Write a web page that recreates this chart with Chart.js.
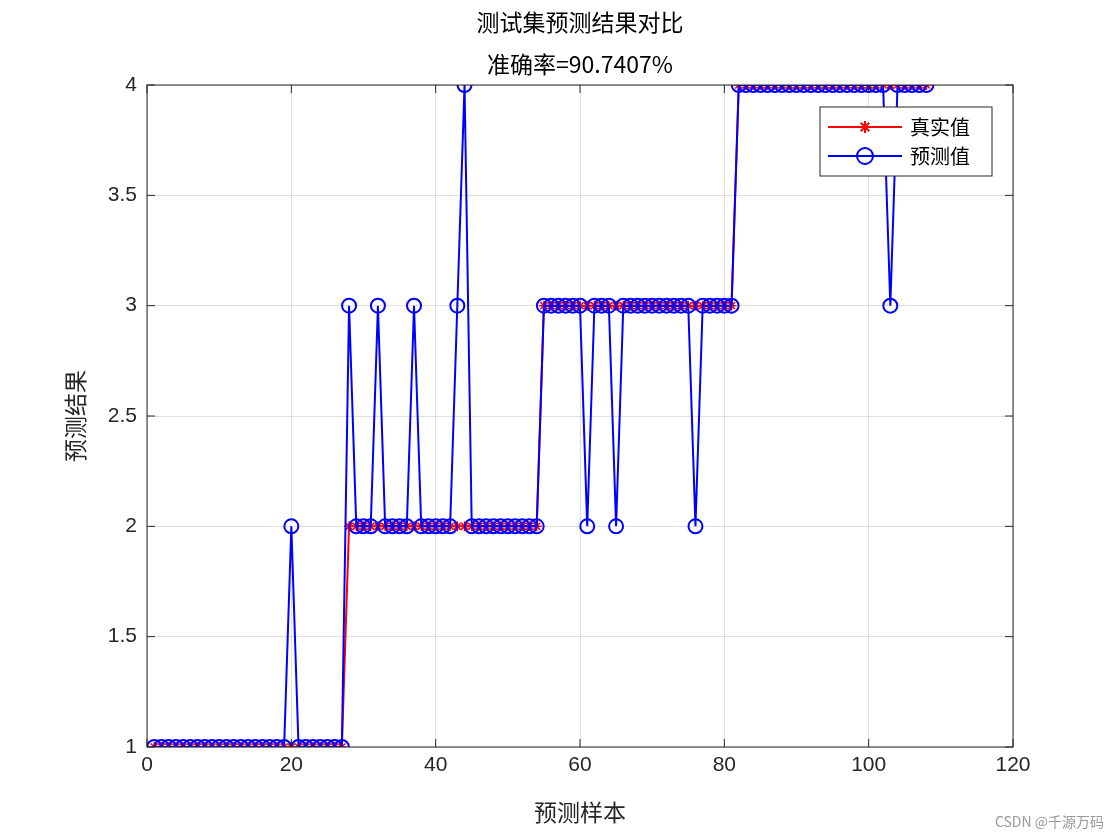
<!DOCTYPE html>
<html>
<head>
<meta charset="utf-8">
<script src="https://cdn.jsdelivr.net/npm/chart.js@4"></script>
<style>
  body { margin: 0; background: #fff; }
  #wrap { width: 1120px; height: 840px; }
</style>
</head>
<body>
<div id="wrap"><canvas id="c" width="1120" height="840"></canvas></div>
<script>
// sample index 1..108
const samples = Array.from({ length: 108 }, (_, i) => i + 1);

// true class of each test sample
const trueVals = [
  1,1,1,1,1,1,1,1,1,1,1,1,1,1,1,1,1,1,1,1,1,1,1,1,1,1,1,
  2,2,2,2,2,2,2,2,2,2,2,2,2,2,2,2,2,2,2,2,2,2,2,2,2,2,2,
  3,3,3,3,3,3,3,3,3,3,3,3,3,3,3,3,3,3,3,3,3,3,3,3,3,3,3,
  4,4,4,4,4,4,4,4,4,4,4,4,4,4,4,4,4,4,4,4,4,4,4,4,4,4,4
];

// predicted class
const predVals = [
  1,1,1,1,1,1,1,1,1,1,1,1,1,1,1,1,1,1,1,2,1,1,1,1,1,1,1,
  3,2,2,2,3,2,2,2,2,3,2,2,2,2,2,3,4,2,2,2,2,2,2,2,2,2,2,
  3,3,3,3,3,3,2,3,3,3,2,3,3,3,3,3,3,3,3,3,3,2,3,3,3,3,3,
  4,4,4,4,4,4,4,4,4,4,4,4,4,4,4,4,4,4,4,4,4,3,4,4,4,4,4
];

const xTicks = [0, 20, 40, 60, 80, 100, 120];
const yTicks = [1, 1.5, 2, 2.5, 3, 3.5, 4];

const toPts = vals => vals.map((v, i) => ({ x: samples[i], y: v }));

const axisFont = { family: 'Arial, "Liberation Sans", sans-serif', size: 21 };
const cjk = '"Noto Sans CJK SC", sans-serif';

const frame = {
  id: 'frame',
  afterDraw(chart) {
    const { ctx, chartArea: a, scales } = chart;
    ctx.save();
    ctx.strokeStyle = '#262626';
    ctx.lineWidth = 1;
    ctx.strokeRect(a.left, a.top, a.right - a.left, a.bottom - a.top);
    // inward ticks
    ctx.beginPath();
    xTicks.forEach(t => {
      const x = scales.x.getPixelForValue(t);
      ctx.moveTo(x, a.bottom); ctx.lineTo(x, a.bottom - 8);
      ctx.moveTo(x, a.top); ctx.lineTo(x, a.top + 8);
    });
    yTicks.forEach(t => {
      const y = scales.y.getPixelForValue(t);
      ctx.moveTo(a.left, y); ctx.lineTo(a.left + 8, y);
      ctx.moveTo(a.right, y); ctx.lineTo(a.right - 8, y);
    });
    ctx.stroke();

    // title
    ctx.fillStyle = '#000';
    ctx.textAlign = 'center';
    ctx.textBaseline = 'middle';
    const cx = (a.left + a.right) / 2;
    ctx.font = '23px ' + cjk;
    ctx.fillText('测试集预测结果对比', cx, 22);
    ctx.fillText('准确率=90.7407%', cx, 64);

    // axis titles
    ctx.fillStyle = '#262626';
    ctx.font = '23px ' + cjk;
    ctx.fillText('预测样本', cx, 812);
    ctx.save();
    ctx.translate(75, (a.top + a.bottom) / 2);
    ctx.rotate(-Math.PI / 2);
    ctx.fillText('预测结果', 0, 0);
    ctx.restore();

    // legend
    const lx = 820, ly = 107, lw = 172, lh = 69;
    ctx.fillStyle = '#fff';
    ctx.fillRect(lx, ly, lw, lh);
    ctx.strokeStyle = '#262626';
    ctx.strokeRect(lx, ly, lw, lh);
    const rows = [
      { label: '真实值', color: '#ff0000', y: ly + 20 },
      { label: '预测值', color: '#0000ff', y: ly + 49 }
    ];
    rows.forEach((r, i) => {
      ctx.strokeStyle = r.color;
      ctx.lineWidth = 2;
      ctx.beginPath();
      ctx.moveTo(lx + 8, r.y); ctx.lineTo(lx + 82, r.y);
      ctx.stroke();
      const mx = lx + 45;
      ctx.beginPath();
      if (i === 0) {
        for (let k = 0; k < 4; k++) {
          const ang = k * Math.PI / 4;
          ctx.moveTo(mx - 6 * Math.cos(ang), r.y - 6 * Math.sin(ang));
          ctx.lineTo(mx + 6 * Math.cos(ang), r.y + 6 * Math.sin(ang));
        }
      } else {
        ctx.arc(mx, r.y, 8, 0, Math.PI * 2);
      }
      ctx.stroke();
      ctx.fillStyle = '#000';
      ctx.textAlign = 'left';
      ctx.font = '20px ' + cjk;
      ctx.fillText(r.label, lx + 90, r.y);
    });

    // watermark
    ctx.fillStyle = '#999';
    ctx.font = '14px ' + cjk;
    ctx.textAlign = 'right';
    ctx.fillText('CSDN @千源万码', 1104, 822);
    ctx.restore();
  }
};

new Chart(document.getElementById('c'), {
  type: 'scatter',
  data: {
    datasets: [
      {
        label: '真实值',
        data: toPts(trueVals),
        showLine: true,
        borderColor: '#ff0000',
        backgroundColor: '#ff0000',
        borderWidth: 2,
        pointStyle: 'star',
        pointRadius: 5,
        pointBorderWidth: 1.5,
        order: 2
      },
      {
        label: '预测值',
        data: toPts(predVals),
        showLine: true,
        borderColor: '#0000ff',
        backgroundColor: 'rgba(0,0,0,0)',
        borderWidth: 2,
        pointStyle: 'circle',
        pointRadius: 7,
        pointBorderWidth: 2,
        order: 1
      }
    ]
  },
  options: {
    responsive: false,
    animation: false,
    layout: { padding: { left: 0, right: 107, top: 85, bottom: 0 } },
    plugins: { legend: { display: false }, tooltip: { enabled: false } },
    scales: {
      x: {
        type: 'linear', min: 0, max: 120,
        afterFit: s => { s.height = 93; },
        afterBuildTicks: s => { s.ticks = xTicks.map(v => ({ value: v })); },
        ticks: { color: '#262626', font: axisFont, padding: 6, callback: v => String(v) },
        grid: { color: 'rgba(0,0,0,0.12)', drawTicks: false },
        border: { display: false }
      },
      y: {
        type: 'linear', min: 1, max: 4,
        afterFit: s => { s.width = 147; },
        afterBuildTicks: s => { s.ticks = yTicks.map(v => ({ value: v })); },
        ticks: { color: '#262626', font: axisFont, padding: 10, callback: v => String(v) },
        grid: { color: 'rgba(0,0,0,0.12)', drawTicks: false },
        border: { display: false }
      }
    }
  },
  plugins: [frame]
});
</script>
</body>
</html>
